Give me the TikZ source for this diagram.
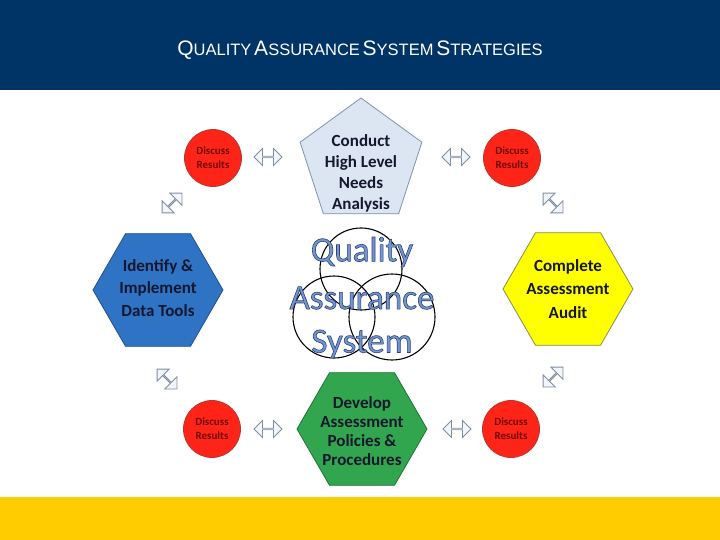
\documentclass[tikz,border=0pt]{standalone}
\usepackage{fontspec}
\setmainfont{Carlito}
\newfontfamily\titlefont{Liberation Sans}
\usetikzlibrary{shapes.geometric,shapes.arrows}

\definecolor{bandnavy}{HTML}{003366}
\definecolor{bandgold}{HTML}{FFCC00}
\definecolor{needsfill}{HTML}{DCE6F2}
\definecolor{needsedge}{HTML}{7F93AE}
\definecolor{toolsfill}{HTML}{2F73C4}
\definecolor{toolsedge}{HTML}{22508A}
\definecolor{auditfill}{HTML}{FFFF00}
\definecolor{auditedge}{HTML}{8A8A5A}
\definecolor{policyfill}{HTML}{31A64E}
\definecolor{policyedge}{HTML}{237238}
\definecolor{discussfill}{HTML}{FF2418}
\definecolor{discussedge}{HTML}{B33A30}
\definecolor{discussink}{HTML}{6E0A05}
\definecolor{stepink}{HTML}{15172E}
\definecolor{arrowfill}{HTML}{F2F5FA}
\definecolor{arrowedge}{HTML}{7F8EA3}
\definecolor{qasfill}{HTML}{7396D2}

% small caps made by hand for the title
\newcommand{\capword}[2]{{\fontsize{21}{21}\selectfont #1}{\fontsize{16.5}{16.5}\selectfont #2}}
% outlined letters for the centre words
\newcommand{\outlined}[1]{\special{pdf:literal direct 2 Tr 0.6 w 0.17 0.26 0.45 RG}#1\special{pdf:literal direct 0 Tr}}

\begin{document}
\begin{tikzpicture}[x=1pt,y=-1pt,
    hexa/.style={regular polygon, regular polygon sides=6, minimum size=130pt, inner sep=0pt, line width=0.8pt},
    penta/.style={regular polygon, regular polygon sides=5, minimum size=128pt, inner sep=0pt, line width=0.8pt},
    steplabel/.style={font=\bfseries\fontsize{17}{21}\selectfont, text=stepink, align=center},
    discuss/.style={circle, minimum size=57pt, inner sep=0pt, fill=discussfill, draw=discussedge, line width=0.8pt,
      font=\bfseries\fontsize{11}{14}\selectfont, text=discussink, align=center},
    twoway/.style={double arrow, double arrow head extend=4.5pt, minimum width=17pt, minimum height=28pt,
      inner sep=0pt, fill=arrowfill, draw=arrowedge, line width=0.8pt},
    venn/.style={circle, draw, line width=1.1pt, inner sep=0pt},
    qasword/.style={font=\fontsize{35}{35}\selectfont, text=qasfill}]

  \useasboundingbox (0,0) rectangle (720,540);

  % Bands
  \fill[bandnavy] (0,0) rectangle (720,90);
  \fill[bandgold] (0,497) rectangle (720,540);
  \node[text=white, font=\titlefont] (title) at (360,50)
    {\capword{Q}{UALITY} \capword{A}{SSURANCE} \capword{S}{YSTEM} \capword{S}{TRATEGIES}};

  % Centre
  \node[venn, minimum size=82pt] (vtop) at (361,269) {};
  \node[venn, minimum size=82pt] (vleft) at (334,317) {};
  \node[venn, minimum size=86pt] (vright) at (392,317) {};
  \node[qasword] (qual) at (362,252) {\outlined{Quality}};
  \node[qasword] (assur) at (362,298) {\outlined{Assurance}};
  \node[qasword] (sys) at (362,344) {\outlined{System}};

  % Steps
  \node[penta, fill=needsfill, draw=needsedge] (needs) at (361,162) {};
  \node[steplabel] (needstext) at (361,173) {Conduct\\High Level\\Needs\\Analysis};

  \node[hexa, fill=toolsfill, draw=toolsedge] (tools) at (158,290) {};
  \node[steplabel, font=\bfseries\fontsize{17}{22.5}\selectfont] (toolstext) at (158,288)
    {Identify \&\\Implement\\Data Tools};

  \node[hexa, fill=auditfill, draw=auditedge] (audit) at (568,289) {};
  \node[steplabel, font=\bfseries\fontsize{17}{23.5}\selectfont] (audittext) at (568,289)
    {Complete\\Assessment\\Audit};

  \node[hexa, fill=policyfill, draw=policyedge] (policy) at (362,429) {};
  \node[steplabel, font=\bfseries\fontsize{17}{19}\selectfont] (policytext) at (362,431)
    {Develop\\Assessment\\Policies \&\\Procedures};

  % Discussions
  \node[discuss] (talkNW) at (213,158) {Discuss\\Results};
  \node[discuss] (talkNE) at (512,158) {Discuss\\Results};
  \node[discuss] (talkSW) at (212,429) {Discuss\\Results};
  \node[discuss] (talkSE) at (511,429) {Discuss\\Results};

  % Two-way arrows
  \node[twoway] (arrN1) at (268,157) {};
  \node[twoway] (arrN2) at (456,157) {};
  \node[twoway] (arrS1) at (268,429) {};
  \node[twoway] (arrS2) at (457,429) {};
  \node[twoway, rotate=45] (arrW1) at (172,203) {};
  \node[twoway, rotate=-45] (arrE1) at (553,203) {};
  \node[twoway, rotate=-45] (arrW2) at (167,379) {};
  \node[twoway, rotate=45] (arrE2) at (553,377) {};
\end{tikzpicture}
\end{document}
